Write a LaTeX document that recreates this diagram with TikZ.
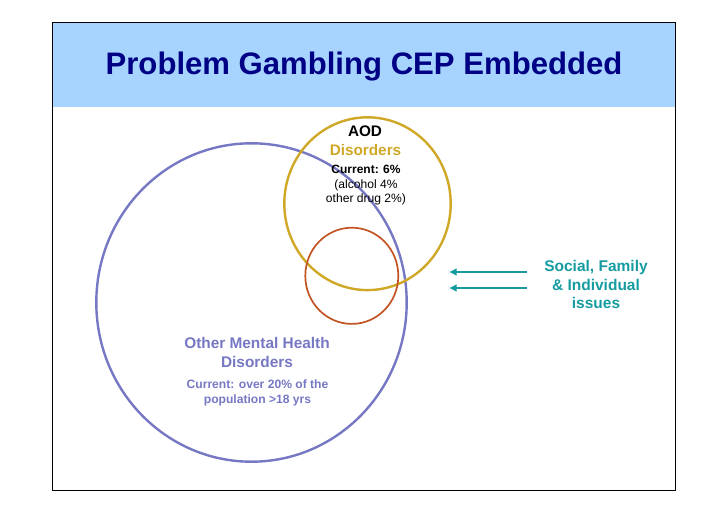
\documentclass[tikz,border=0pt]{standalone}
\usepackage{fontspec}
\setmainfont{Liberation Sans}
\usetikzlibrary{positioning}
\usetikzlibrary{arrows.meta}

\definecolor{headblue}{RGB}{166,212,255}
\definecolor{titleblue}{RGB}{0,0,132}
\definecolor{mentalblue}{RGB}{118,120,196}
\definecolor{aodgold}{RGB}{208,168,40}
\definecolor{overlapred}{RGB}{194,84,36}
\definecolor{socialteal}{RGB}{22,156,160}

\tikzset{
	circleline/.style = {line width = 2.4pt},
	issuearrow/.style = {socialteal, line width = 2.2pt, -{Latex[length = 7.5pt, width = 8pt]}},
	textline/.style = {align = center, font = \bfseries}
}

\begin{document}
\begin{tikzpicture}[x = 1pt, y = 1pt]
	\useasboundingbox (0, 0) rectangle (728, 515);
	\fill[headblue] (52, 408) rectangle (675, 492);
	\draw[black, line width = 1pt] (52, 25) rectangle (675, 492);
	\node (title) at (364, 448) [titleblue, font = \bfseries\fontsize{31.1}{36}\selectfont] {Problem Gambling CEP Embedded};

	\draw[mentalblue, circleline] (251.5, 212.5) ellipse (155.2 and 159.2);
	\draw[aodgold, circleline] (367.5, 311.3) ellipse (83.2 and 86.4);
	\draw[overlapred, line width = 1.7pt] (351.8, 239.2) ellipse (46.5 and 48.1);

	\node (aod) at (365, 383.5) [textline, black, font = \bfseries\fontsize{15.3}{18}\selectfont] {AOD};
	\node (disorders) at (365.5, 364.5) [textline, aodgold, font = \bfseries\fontsize{15.3}{18}\selectfont] {Disorders};
	\node (current) at (366, 346) [textline, black, font = \bfseries\fontsize{12}{14}\selectfont] {Current: 6\%};
	\node (drugs) at (366, 322.7) [align = center, black, font = \fontsize{12.1}{14.5}\selectfont] {(alcohol 4\%\\other drug 2\%)};

	\node (mental) at (257, 163) [textline, mentalblue, font = \bfseries\fontsize{15.4}{19}\selectfont] {Other Mental Health\\Disorders};
	\node (adults) at (257.5, 122) [textline, mentalblue, font = \bfseries\fontsize{12.1}{15}\selectfont] {Current: over 20\% of the\\population >18 yrs};

	\node (social) at (596, 230.5) [textline, socialteal, font = \bfseries\fontsize{15.5}{18.5}\selectfont] {Social, Family\\\& Individual\\issues};
	\coordinate (upper) at (527, 243);
	\coordinate (lower) at (527, 227);
	\coordinate (uppertip) at (449, 243);
	\coordinate (lowertip) at (449, 227);
	\draw[issuearrow] (upper) -- (uppertip);
	\draw[issuearrow] (lower) -- (lowertip);
\end{tikzpicture}
\end{document}
